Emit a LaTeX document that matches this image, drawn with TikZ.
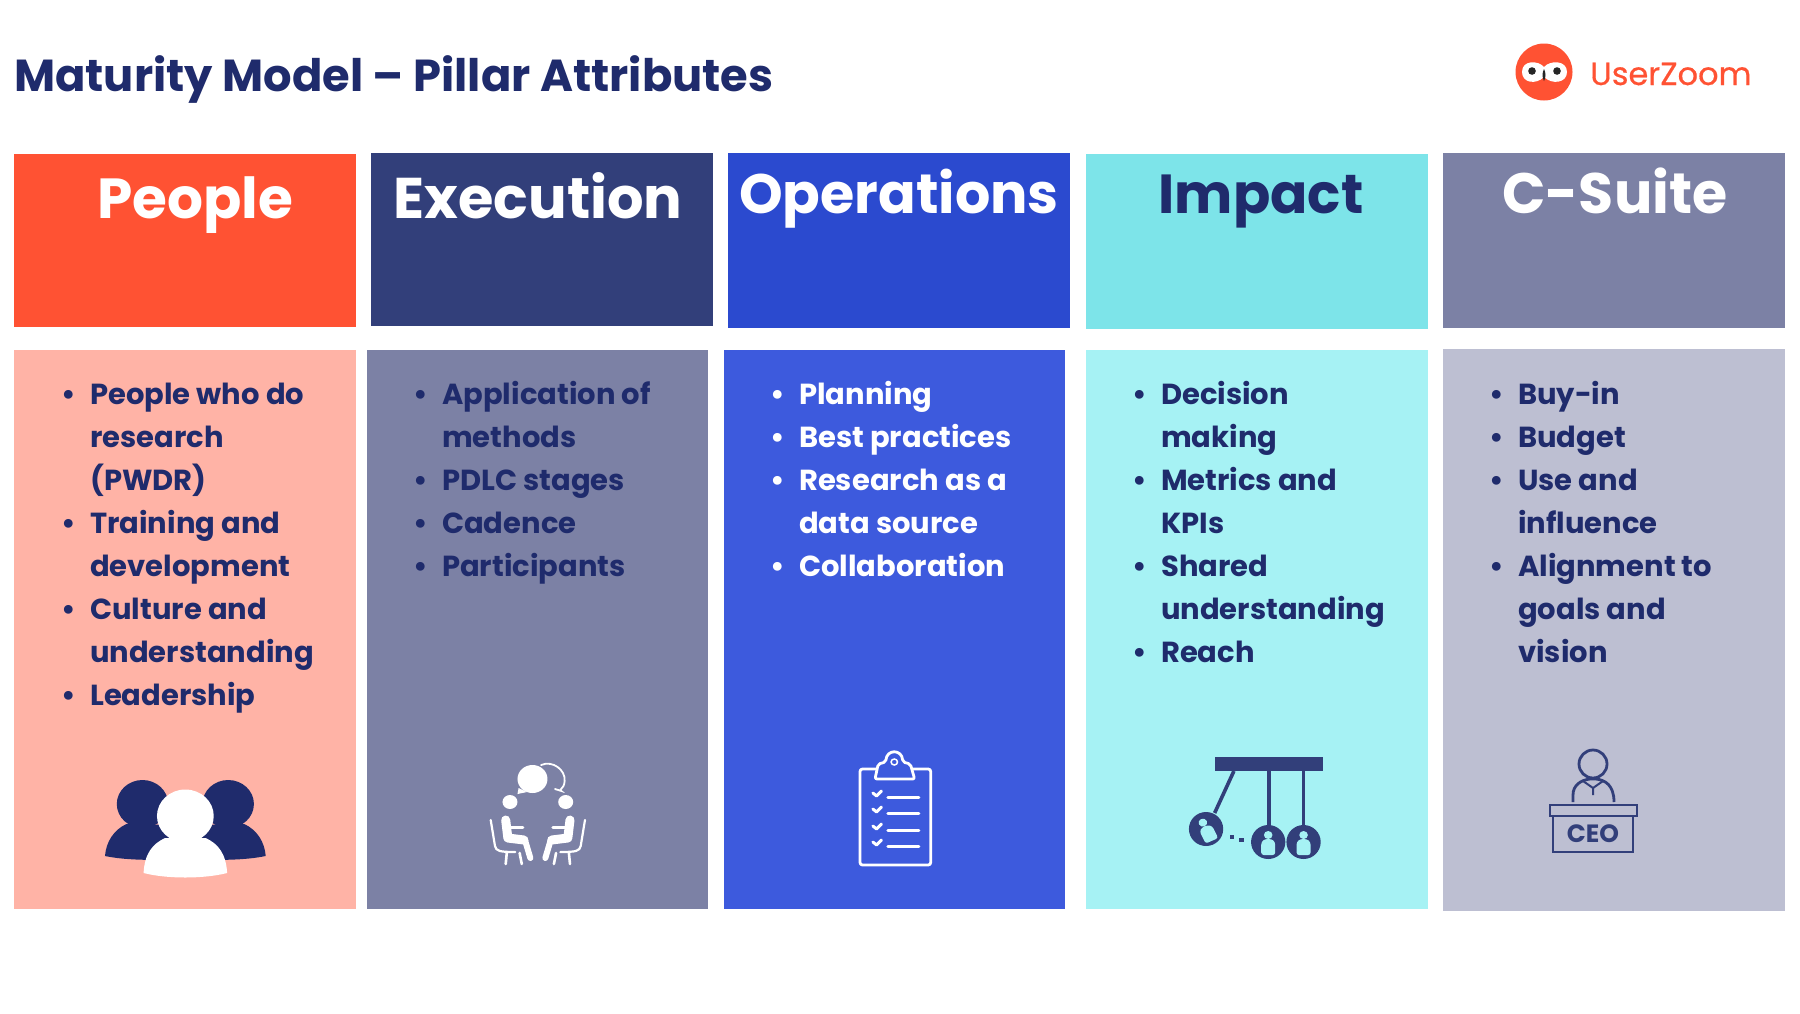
\documentclass[tikz,border=0pt]{standalone}
\usepackage{fontspec}
\setmainfont{Poppins}
\newfontfamily\logofont[FakeBold=0.5]{Poppins}
\definecolor{navy}{HTML}{1F2B6C}
\definecolor{slate}{HTML}{323F7A}
\definecolor{orng}{HTML}{FF5233}
\definecolor{peopleB}{HTML}{FFB3A6}
\definecolor{execB}{HTML}{7C81A5}
\definecolor{opsH}{HTML}{2B4ACF}
\definecolor{opsB}{HTML}{3D5ADD}
\definecolor{impH}{HTML}{7DE4E9}
\definecolor{impB}{HTML}{A6F2F4}
\definecolor{csB}{HTML}{BDBFD2}
\newcommand{\bl}{\leavevmode\llap{•\hspace{14pt}}}
\tikzset{
 headtxt/.style={inner sep=0,anchor=base,font=\fontsize{#1}{60}\selectfont\bfseries},
 listtxt/.style={inner sep=0,anchor=north west,align=left,text=navy,font=\fontsize{29}{43}\selectfont\bfseries},
 icw/.style={draw=white,line width=2.8pt,line cap=round,line join=round},
 icn/.style={draw=slate,line width=2.8pt,line join=miter},
 zoomA/.style={shift={(60,0)},xscale=1.0714,shift={(-60,0)}},
 zoomB/.style={shift={(800,0)},xscale=1.0714,shift={(-800,0)}},
}
\begin{document}
\begin{tikzpicture}[x=1pt,y=-1pt]
\useasboundingbox (0,0) rectangle (1800,1013);
\fill[white] (0,0) rectangle (1800,1013);
\node[inner sep=0,anchor=base west,text=navy,font=\fontsize{44.8}{50}\selectfont\bfseries] (title) at (14,91) {Maturity Model – Pillar Attributes};
% logo
\fill[orng] (1544,72) circle (28.5);
\fill[white] (1544,77) .. controls (1536,85) and (1522,83) .. (1522,72) .. controls (1522,60) and (1538,60) .. (1544,67) .. controls (1550,60) and (1567,60) .. (1567,72) .. controls (1567,83) and (1552,85) .. (1544,77) -- cycle;
\fill[black!85] (1532,71) circle (3.8) (1557,71) circle (3.8);
\fill[black!85] (1544,69) .. controls (1546,73) and (1546,77) .. (1544,81) .. controls (1542,77) and (1542,73) .. (1544,69) -- cycle;
\node[inner sep=0,anchor=base west,text=orng,font=\fontsize{32}{40}\selectfont\logofont] (logo) at (1590,85) {UserZoom};
% panels
\fill[orng] (14,154) rectangle (356,327);
\fill[slate] (371,153) rectangle (713,326);
\fill[opsH] (728,153) rectangle (1070,328);
\fill[impH] (1086,154) rectangle (1428,329);
\fill[execB] (1443,153) rectangle (1785,328);
\fill[peopleB] (14,350) rectangle (356,909);
\fill[execB] (367,350) rectangle (708,909);
\fill[opsB] (724,350) rectangle (1065,909);
\fill[impB] (1086,350) rectangle (1428,909);
\fill[csB] (1443,349) rectangle (1785,911);
% headers
\node[headtxt=56.5,text=white] (hpeople) at (195,218) {People};
\node[headtxt=57.4,text=white] (hexec) at (538,218) {Execution};
\node[headtxt=55.5,text=white] (hops) at (899,213) {Operations};
\node[headtxt=55,text=navy] (himpact) at (1261,213) {Impact};
\node[headtxt=57,text=white] (hcs) at (1615,213) {C-Suite};
% lists
\node[listtxt] (lpeople) at (90,374.5) {\strut\bl People who do\\research\\(PWDR)\\\bl Training and\\development\\\bl Culture and\\understanding\\\bl Leadership};
\node[listtxt] (lexec) at (442,374.5) {\strut\bl Application of\\methods\\\bl PDLC stages\\\bl Cadence\\\bl Participants};
\node[listtxt,text=white] (lops) at (799,374.5) {\strut\bl Planning\\\bl Best practices\\\bl Research as a\\data source\\\bl Collaboration};
\node[listtxt] (limpact) at (1161,374.5) {\strut\bl Decision\\making\\\bl Metrics and\\KPIs\\\bl Shared\\understanding\\\bl Reach};
\node[listtxt] (lcs) at (1518,374.5) {\strut\bl Buy-in\\\bl Budget\\\bl Use and\\influence\\\bl Alignment to\\goals and\\vision};
% people icon
\begin{scope}[zoomA]
\fill[navy] (137,804) circle (24);
\fill[navy] (217,804) circle (24);
\fill[navy] (122,824) .. controls (110,830) and (103,842) .. (102,856) .. controls (120,860) and (140,860) .. (165,860) -- (165,825) -- cycle;
\fill[navy] (232,824) .. controls (244,830) and (251,842) .. (252,856) .. controls (234,860) and (214,860) .. (190,860) -- (190,825) -- cycle;
\fill[white] (177,816) circle (26.5);
\fill[white] (158,838) .. controls (146,844) and (139,854) .. (138,873) .. controls (160,879) and (194,879) .. (216,873) .. controls (215,854) and (208,844) .. (196,838) -- cycle;
\end{scope}
% meeting icon
\begin{scope}[zoomA]
\fill[white] (501,779) circle (14);
\fill[white] (488,788) -- (487,794) -- (496,792) -- cycle;
\draw[white,line width=1.8pt,line cap=round] (509,765) .. controls (520,760) and (532,770) .. (531,781) .. controls (531,785) and (529,788) .. (527,790) -- (528,791) -- (522,789);
\fill[white] (480,802) circle (7) (532,802) circle (7);
\foreach \mm/\ms in {0/1,1012/-1}{
\begin{scope}[xshift=\mm pt,xscale=\ms]
\draw[white,line join=round,line cap=round,line width=9pt] (476,820) -- (478,838) -- (493,840);
\draw[white,line cap=round,line width=6pt] (494,840) -- (499,858);
\draw[white,line width=3pt,line cap=round] (480,827) -- (492,827);
\draw[white,line width=2.2pt,line cap=round,line join=round] (462,820) -- (466,846) .. controls (467,851) and (470,852) .. (485,852);
\draw[white,line width=2.6pt,line cap=round] (477,853) -- (476,864) (489,853) -- (491,864);
\end{scope}
}
\end{scope}
% clipboard icon
\begin{scope}[zoomB]
\draw[icw,rounded corners=2.5pt] (856,769) rectangle (922,865);
\draw[icw,fill=opsB,rounded corners=2pt] (870,779) -- (873,764) -- (880,762) .. controls (881,749) and (895,749) .. (896,762) -- (903,764) -- (907,779) -- cycle;
\draw[white,line width=1.5pt] (888,762) circle (3);
\foreach \yy in {797,813,830,846}{
 \draw[white,line width=3pt,line cap=round] (882,\yy) -- (911,\yy);
 \draw[white,line width=3pt,line cap=round,line join=round] (868,\yy-4) -- (871.5,\yy-1) -- (876,\yy-6);
}
\end{scope}
% newton icon
\begin{scope}[zoomB]
\fill[slate] (1187,757) rectangle (1288,771);
\draw[slate,line width=3.6pt] (1205,771) -- (1187,813);
\draw[slate,line width=3.6pt] (1238,771) -- (1238,828);
\draw[slate,line width=3.6pt] (1270,771) -- (1270,828);
\foreach \xx/\yy/\aa in {1179/829/25,1237/842/0,1270/842/0}{
 \begin{scope}[shift={(\xx,\yy)}]
 \fill[slate] (0,0) ellipse (16 and 17);
 \begin{scope}[rotate=\aa]
 \fill[impB] (0,-7) circle (4);
 \fill[impB,rounded corners=2.5pt] (-6.5,0) -- (-3,-3) -- (3,-3) -- (6.5,0) -- (6.5,13) -- (-6.5,13) -- cycle;
 \end{scope}
 \end{scope}
}
\fill[slate] (1201,835) rectangle (1205,839);
\fill[slate] (1210,838) rectangle (1214,842);
\end{scope}
% CEO icon
\draw[icn] (1593,764) circle (14);
\draw[icn] (1573,802) -- (1573,795) .. controls (1573,785) and (1581,780) .. (1590,779) -- (1596,779) .. controls (1605,780) and (1614,785) .. (1614,802);
\draw[icn,line width=2pt] (1583,781) -- (1593,788) -- (1603,781) (1593,788) -- (1593,795);
\draw[icn] (1550,805) rectangle (1637,816);
\draw[icn] (1553,816) rectangle (1633,852);
\node[inner sep=0,text=slate,font=\fontsize{25}{25}\selectfont\bfseries] (ceo) at (1593,834) {CEO};
\end{tikzpicture}
\end{document}
